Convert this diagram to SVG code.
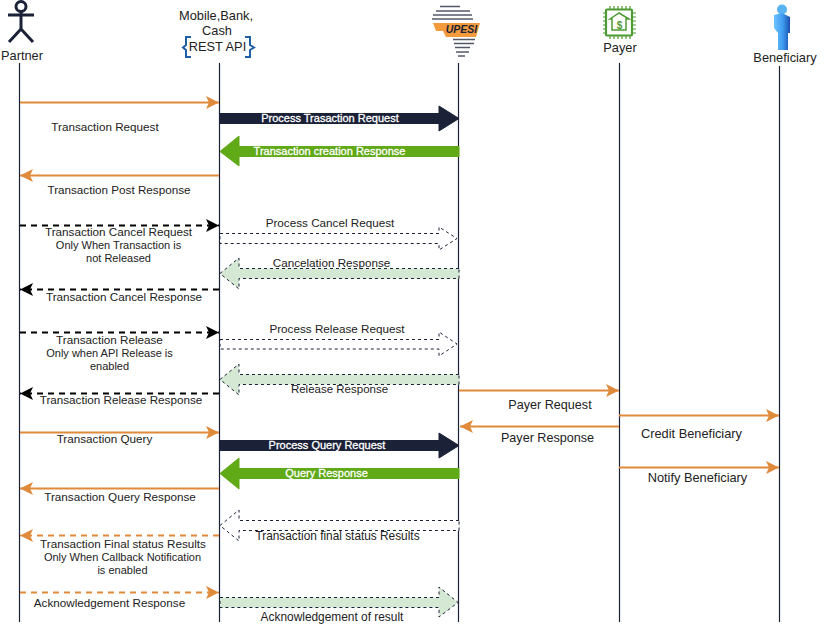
<svg xmlns="http://www.w3.org/2000/svg" width="830" height="633" viewBox="0 0 830 633">
<style>
text{font-family:"Liberation Sans",Arial,sans-serif;font-size:11.7px;fill:#222;text-anchor:middle}
.h{font-size:12.8px}
.s{font-size:11px}
.p{font-size:12.6px}
.w{fill:#fff;stroke:#fff;stroke-width:.3;font-size:11px}
.life{stroke:#1b2238;stroke-width:1.2;fill:none}
.o{stroke:#e08a3c;stroke-width:2;fill:none}
.od{stroke:#e08a3c;stroke-width:2;fill:none;stroke-dasharray:6 5}
.k{stroke:#000;stroke-width:2;fill:none;stroke-dasharray:6 5}
.navy{fill:#1b2238;stroke:#1b2238}
.green{fill:#60a917;stroke:#60a917}
.pale{fill:#d5e8d4;stroke:#1b2238;stroke-dasharray:3 3}
.clear{fill:#fff;stroke:#1b2238;stroke-dasharray:3 3}
</style>
<defs>
<marker id="ao" markerUnits="userSpaceOnUse" markerWidth="13" markerHeight="13" refX="13" refY="6.500" orient="auto"><path d="M0 0L13 6.500L0 13L3 6.500Z" fill="#e08a3c"/></marker>
<marker id="ak" markerUnits="userSpaceOnUse" markerWidth="13" markerHeight="13" refX="13" refY="6.500" orient="auto"><path d="M0 0L13 6.500L0 13L3 6.500Z" fill="#000"/></marker>
<linearGradient id="bg" x1="0" x2="1"><stop offset="0" stop-color="#6cc4ff"/><stop offset=".55" stop-color="#3f9bf0"/><stop offset="1" stop-color="#1a4fb0"/></linearGradient>
</defs>
<g id="partner"><g fill="none" stroke="#1b2238" stroke-width="3"><circle cx="21" cy="6.500" r="5"/><path d="M21 12V29M8 15H34M21 29L9 42M21 29L33 42"/></g><text class="h" x="22" y="60">Partner</text></g>
<g id="api"><text class="h" x="216" y="20">Mobile,Bank,</text><text class="h" x="217" y="35">Cash</text><text class="h" x="217.500" y="51">REST API</text>
<path d="M191 37H186V45L183 47.500L186 50V57H191M245 37H250V45L254 47.500L250 50V57H245" fill="none" stroke="#1f5ea8" stroke-width="2"/></g>
<g id="upesi"><g stroke="#1b2238" stroke-opacity=".75" stroke-width="1.500"><path d="M440 6.500H460M436 11H470M433 15H472M432 19H473"/><path d="M453 39.500H475M454 43.500H474M455 47.500H470M456 52H469M458 56H465"/></g>
<path d="M433 23H480L476 37H446L443 31H436Z" fill="#f39a3c"/><text x="461.500" y="33" style="font-size:10.500px;font-weight:bold;font-style:italic;fill:#1b2238">UPESI</text></g>
<g id="payer"><rect x="606" y="9.500" width="26" height="26" rx="1" fill="none" stroke="#4f9a33" stroke-width="2.200"/><path d="M610 6V9M614 6V9M618 6V9M622 6V9M626 6V9M630 6V9M610 36V39M614 36V39M618 36V39M622 36V39M626 36V39M630 36V39M603 13H606M603 17H606M603 21H606M603 25H606M603 29H606M603 33H606M632 13H636M632 17H636M632 21H636M632 25H636M632 29H636M632 33H636" stroke="#4f9a33" stroke-width="1.200"/>
<path d="M610 19L619 13L629 19H626V30H612V19Z" fill="none" stroke="#4f9a33" stroke-width="1.500"/><text x="619.500" y="28.500" style="font-size:10px;fill:#4f9a33;font-weight:bold">$</text><text class="h" x="620" y="52">Payer</text></g>
<g id="beneficiary"><circle cx="782" cy="9.500" r="5" fill="#57b4f0"/><path d="M774 15L782 13L790 17V33H788V50H778V33L774 28Z" fill="url(#bg)"/><text class="h" x="785" y="62">Beneficiary</text></g>
<g id="connectors">
<path class="life" d="M19.500 63V622M219.500 63V622M458.500 63V622M619.500 63V622M779.500 66V622"/>
<path class="o" marker-end="url(#ao)" d="M20 102.500H219"/><path class="o" marker-end="url(#ao)" d="M219 175.500H20"/>
<path class="k" marker-end="url(#ak)" d="M20 225.500H219"/><path class="k" marker-end="url(#ak)" d="M219 289.500H20"/>
<path class="k" marker-end="url(#ak)" d="M20 332.500H219"/><path class="k" marker-end="url(#ak)" d="M219 393.500H20"/>
<path class="o" marker-end="url(#ao)" d="M20 432.500H219"/><path class="o" marker-end="url(#ao)" d="M219 488.500H20"/>
<path class="od" marker-end="url(#ao)" d="M219 535.500H20"/><path class="od" marker-end="url(#ao)" d="M20 592.500H219"/>
<path class="o" marker-end="url(#ao)" d="M459 390.500H619"/><path class="o" marker-end="url(#ao)" d="M619 426.500H460"/>
<path class="o" marker-end="url(#ao)" d="M619 415.500H779"/><path class="o" marker-end="url(#ao)" d="M619 467.500H779"/>
<path class="navy" d="M220 113.500H439V106L459 118.500L439 131V123.500H220Z"/>
<path class="green" d="M459 146.500H239V136L220 151.500L239 166V156.500H459Z"/>
<path class="clear" d="M220 233.500H439V227L457 238.500L439 250V243.500H220Z"/>
<path class="pale" d="M459 268.500H239V258L220 273.500L239 289V278.500H459Z"/>
<path class="clear" d="M220 339.500H439V332L457 344L439 356V349H220Z"/>
<path class="pale" d="M459 374.500H239V364L220 379.500L239 395V384.500H459Z"/>
<path class="navy" d="M220 440.500H439V433L459 445.500L439 458V450.500H220Z"/>
<path class="green" d="M459 468.500H239V458L220 473.500L239 489V478.500H459Z"/>
<path class="clear" d="M459 520.500H239V510L220 525.500L239 541V530.500H459Z"/>
<path class="pale" d="M220 597.500H439V587L458 602.500L439 617V607.500H220Z"/>
</g>
<g id="labels">
<text x="105" y="131">Transaction Request</text><text x="119" y="194">Transaction Post Response</text>
<text x="118.500" y="236">Transaction Cancel Request</text><text class="s" x="118.500" y="249">Only When Transaction is</text><text class="s" x="118.500" y="262">not Released</text>
<text x="124" y="301">Transaction Cancel Response</text>
<text x="109.500" y="344">Transaction Release</text><text class="s" x="109.500" y="357">Only when API Release is</text><text class="s" x="109.500" y="370">enabled</text>
<text x="121" y="404">Transaction Release Response</text><text x="104.500" y="443">Transaction Query</text><text x="120" y="501">Transaction Query Response</text>
<text x="123" y="548">Transaction Final status Results</text><text class="s" x="122.500" y="561">Only When Callback Notification</text><text class="s" x="122.500" y="574">is enabled</text>
<text x="109.500" y="607">Acknowledgement Response</text>
<text class="w" x="330" y="122">Process Trasaction Request</text><text class="w" x="329.500" y="155">Transaction creation Response</text>
<text x="330" y="227">Process Cancel Request</text><text x="331.500" y="267">Cancelation Response</text>
<text x="337" y="333">Process Release Request</text><text x="339.500" y="393" style="font-size:11.500px">Release Response</text>
<text class="w" x="327" y="449">Process Query Request</text><text class="w" x="326.500" y="477">Query Response</text>
<text x="337.500" y="540" style="font-size:11.850px">Transaction final status Results</text><text x="332" y="621" style="font-size:11.900px">Acknowledgement of result</text>
<text class="p" x="550" y="409">Payer Request</text><text class="p" x="547.500" y="442">Payer Response</text><text class="h" x="691.500" y="438">Credit Beneficiary</text><text class="h" x="697.500" y="482">Notify Beneficiary</text>
</g>
</svg>
